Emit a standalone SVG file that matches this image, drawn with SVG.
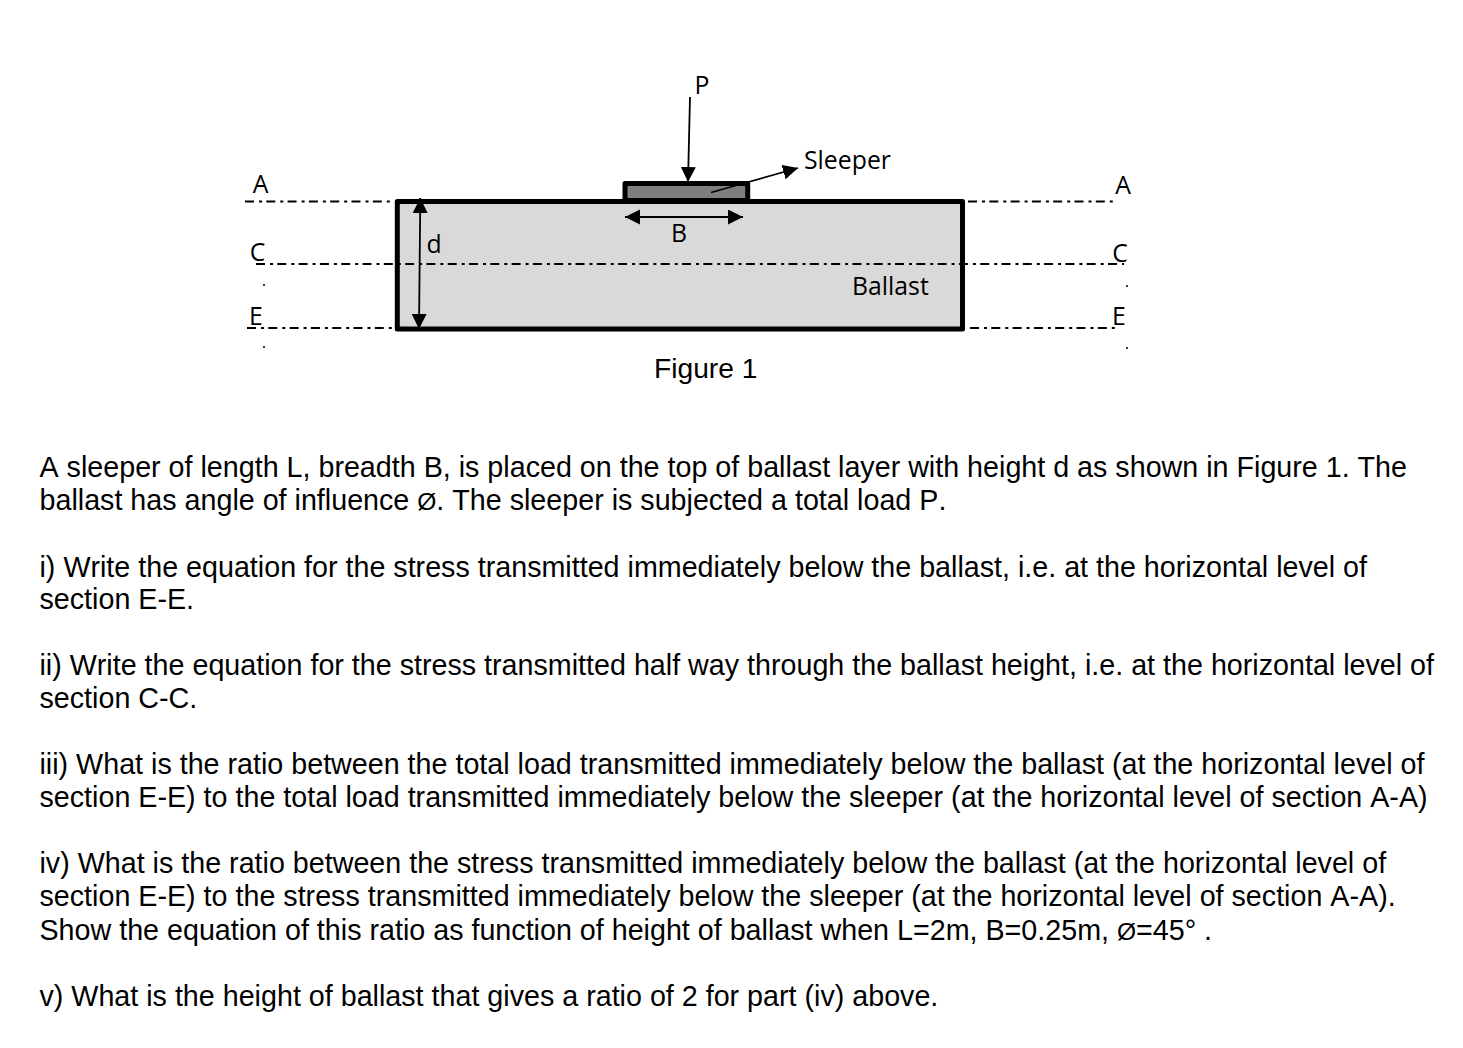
<svg xmlns="http://www.w3.org/2000/svg" width="1463" height="1048" viewBox="0 0 1463 1048">
<style>
.b{font-family:"Liberation Sans",Arial,sans-serif;font-size:28.68px;font-kerning:none;fill:#000}
.o{font-size:24.5px}
.l{font-family:"Open Sans","Noto Sans",sans-serif;font-size:24.8px;fill:#000}
.cl{fill:none;stroke:#000;stroke-width:1.8;stroke-dasharray:9 5 3 4.300}
.ar{fill:none;stroke:#000;stroke-width:1.8}
.hd{fill:#000;stroke:none}
</style>
<defs>
<marker id="ah" markerUnits="userSpaceOnUse" markerWidth="16" markerHeight="16" refX="15" refY="7.5" orient="auto-start-reverse"><path class="hd" d="M0 0L15 7.5L0 15Z"/></marker>
</defs>
<rect width="1463" height="1048" fill="#fff"/>
<g id="ballast"><rect x="397.3" y="201.6" width="565.2" height="127.5" fill="#d9d9d9" stroke="#000" stroke-width="5" stroke-linejoin="round"/><text class="l" x="852" y="295">Ballast</text></g>
<g id="sleeper"><rect x="625" y="183.4" width="122.7" height="17" fill="#7f7f7f" stroke="#000" stroke-width="5" stroke-linejoin="round"/><text class="l" x="804" y="169">Sleeper</text></g>
<g id="connectors">
<path class="cl" d="M245 201.5H393"/><path class="cl" d="M968 201.5H1114"/>
<path class="cl" d="M256 264H1124"/>
<path class="cl" d="M247 328H393"/><path class="cl" d="M970 328H1115"/>
<path class="ar" d="M690 97L688 182" marker-end="url(#ah)"/>
<path class="ar" d="M420.300 198L419 329" marker-start="url(#ah)" marker-end="url(#ah)"/>
<path class="ar" d="M625 217H743" marker-start="url(#ah)" marker-end="url(#ah)"/>
<path class="ar" d="M711 192.500L798 168" marker-end="url(#ah)"/>
<path d="M263 285h2M263 347h2M1126 286h2M1126 348h2" stroke="#000" stroke-width="1.500" fill="none"/>
</g>
<g id="labels">
<text class="l" x="702" y="94" text-anchor="middle">P</text>
<text class="l" x="260.500" y="193" text-anchor="middle">A</text>
<text class="l" x="257.500" y="261" text-anchor="middle">C</text>
<text class="l" x="256" y="324.500" text-anchor="middle">E</text>
<text class="l" x="1123" y="194" text-anchor="middle">A</text>
<text class="l" x="1120" y="262" text-anchor="middle">C</text>
<text class="l" x="1119" y="324.500" text-anchor="middle">E</text>
<text class="l" x="434" y="253" text-anchor="middle">d</text>
<text class="l" x="679" y="241.500" text-anchor="middle">B</text>
</g>
<g id="text">
<text class="b" x="654" y="378" style="font-size:28.2px">Figure 1</text>
<text class="b" x="39.500" y="477">A sleeper of length L, breadth B, is placed on the top of ballast layer with height d as shown in Figure 1. The</text>
<text class="b" x="39.500" y="510">ballast has angle of influence <tspan class="o">Ø</tspan>. The sleeper is subjected a total load P.</text>
<text class="b" x="39.500" y="577">i) Write the equation for the stress transmitted immediately below the ballast, i.e. at the horizontal level of</text>
<text class="b" x="39.500" y="609">section E-E.</text>
<text class="b" x="39.500" y="675">ii) Write the equation for the stress transmitted half way through the ballast height, i.e. at the horizontal level of</text>
<text class="b" x="39.500" y="708">section C-C.</text>
<text class="b" x="39.500" y="774">iii) What is the ratio between the total load transmitted immediately below the ballast (at the horizontal level of</text>
<text class="b" x="39.500" y="807">section E-E) to the total load transmitted immediately below the sleeper (at the horizontal level of section A-A)</text>
<text class="b" x="39.500" y="873">iv) What is the ratio between the stress transmitted immediately below the ballast (at the horizontal level of</text>
<text class="b" x="39.500" y="906">section E-E) to the stress transmitted immediately below the sleeper (at the horizontal level of section A-A).</text>
<text class="b" x="39.500" y="940">Show the equation of this ratio as function of height of ballast when L=2m, B=0.25m, <tspan class="o">Ø</tspan>=45° .</text>
<text class="b" x="39.500" y="1006">v) What is the height of ballast that gives a ratio of 2 for part (iv) above.</text>
</g>
</svg>
